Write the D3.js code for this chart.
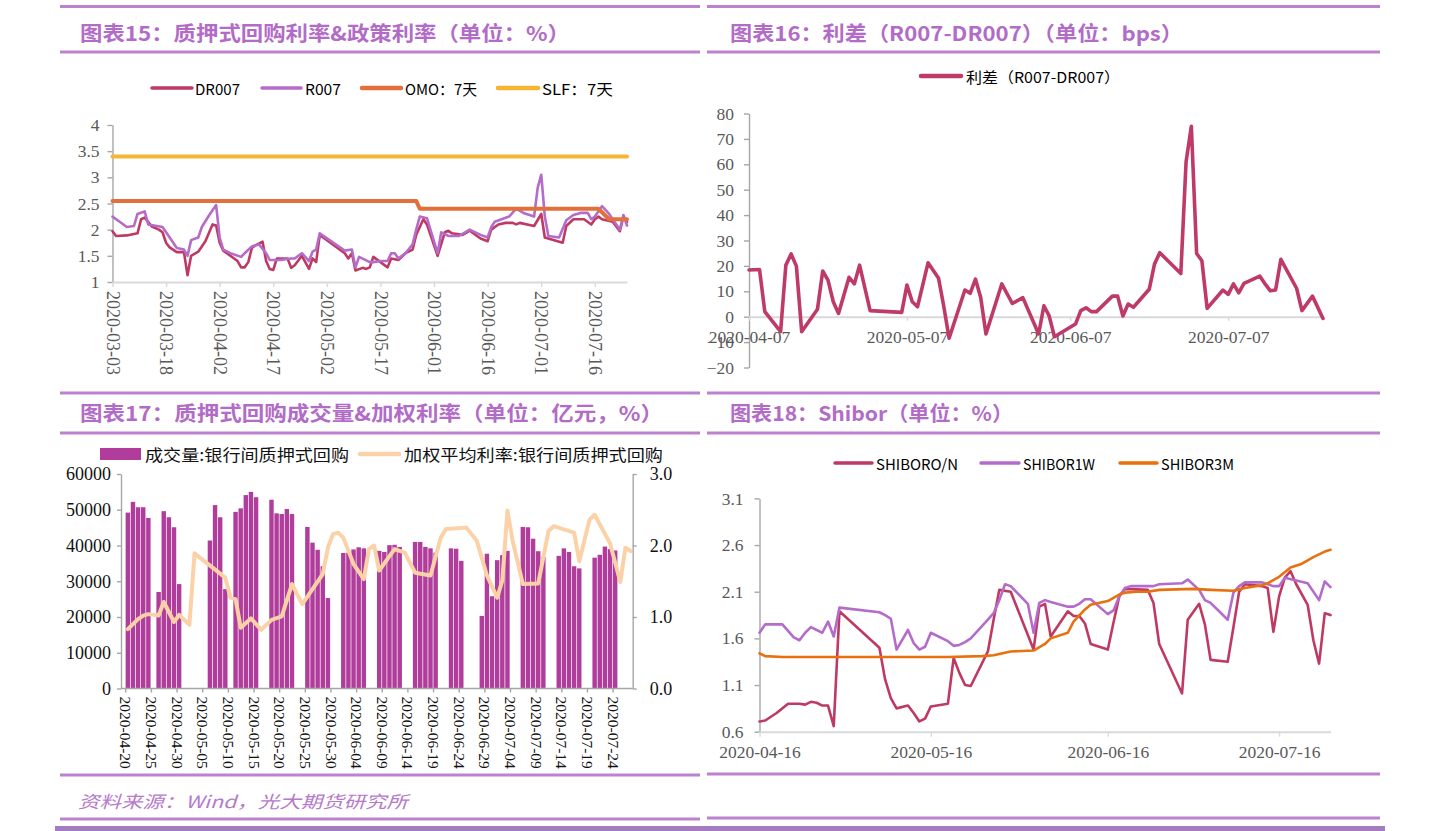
<!DOCTYPE html>
<html>
<head>
<meta charset="utf-8">
<script src="https://cdn.jsdelivr.net/npm/d3@7"></script>
<style>
  body { margin: 0; background: #fff; }
  svg { display: block; }
</style>
</head>
<body>
<svg id="chart" width="1440" height="831"></svg>
<script>
// ---------- 图表15 data ----------
var dr007Dates = [
  "2020-03-03","2020-03-04","2020-03-07","2020-03-10","2020-03-11","2020-03-12","2020-03-14","2020-03-16","2020-03-17","2020-03-18",
  "2020-03-19","2020-03-21","2020-03-23","2020-03-24","2020-03-25","2020-03-27","2020-03-29","2020-03-31","2020-04-01","2020-04-02",
  "2020-04-03","2020-04-04","2020-04-07","2020-04-08","2020-04-09","2020-04-10","2020-04-11","2020-04-12","2020-04-14","2020-04-15",
  "2020-04-16","2020-04-17","2020-04-18","2020-04-21","2020-04-22","2020-04-23","2020-04-25","2020-04-27","2020-04-28","2020-04-29",
  "2020-04-30","2020-05-07","2020-05-08","2020-05-09","2020-05-10","2020-05-12","2020-05-13","2020-05-14","2020-05-15","2020-05-17",
  "2020-05-19","2020-05-20","2020-05-22","2020-05-24","2020-05-26","2020-05-27","2020-05-29","2020-05-30","2020-06-02","2020-06-04",
  "2020-06-05","2020-06-06","2020-06-09","2020-06-11","2020-06-14","2020-06-16","2020-06-17","2020-06-19","2020-06-21","2020-06-23",
  "2020-06-24","2020-06-25","2020-06-29","2020-07-01","2020-07-02","2020-07-07","2020-07-08","2020-07-10","2020-07-13","2020-07-15",
  "2020-07-16","2020-07-17","2020-07-18","2020-07-21","2020-07-23","2020-07-24","2020-07-25"];
var dr007Values = [
  1.97,1.88,1.89,1.93,2.20,2.23,2.06,2.00,1.95,1.75,
  1.66,1.57,1.57,1.13,1.50,1.58,1.78,2.10,2.08,1.75,
  1.60,1.55,1.40,1.28,1.28,1.38,1.65,1.70,1.77,1.40,
  1.25,1.23,1.45,1.45,1.27,1.32,1.50,1.25,1.45,1.38,
  1.90,1.55,1.45,1.55,1.22,1.27,1.25,1.28,1.48,1.38,
  1.28,1.45,1.42,1.55,1.62,1.90,2.20,2.10,1.50,1.95,
  1.98,1.93,1.90,1.98,1.83,1.78,2.00,2.10,2.13,2.13,
  2.10,2.13,2.07,2.30,1.85,1.75,2.07,2.20,2.20,2.10,
  2.20,2.25,2.20,2.15,1.97,2.25,2.15];

var r007Dates = [
  "2020-03-03","2020-03-05","2020-03-07","2020-03-09","2020-03-10","2020-03-12","2020-03-13","2020-03-17","2020-03-19","2020-03-21",
  "2020-03-23","2020-03-24","2020-03-25","2020-03-27","2020-03-28","2020-03-30","2020-04-01","2020-04-02","2020-04-03","2020-04-05",
  "2020-04-08","2020-04-09","2020-04-11","2020-04-13","2020-04-15","2020-04-16","2020-04-19","2020-04-22","2020-04-23","2020-04-25",
  "2020-04-27","2020-04-28","2020-04-29","2020-04-30","2020-05-07","2020-05-09","2020-05-10","2020-05-11","2020-05-14","2020-05-15",
  "2020-05-17","2020-05-19","2020-05-20","2020-05-21","2020-05-22","2020-05-24","2020-05-26","2020-05-27","2020-05-28","2020-05-30",
  "2020-06-02","2020-06-03","2020-06-05","2020-06-08","2020-06-11","2020-06-14","2020-06-16","2020-06-17","2020-06-18","2020-06-22",
  "2020-06-24","2020-06-26","2020-06-29","2020-06-30","2020-07-01","2020-07-02","2020-07-03","2020-07-06","2020-07-08","2020-07-10",
  "2020-07-12","2020-07-14","2020-07-15","2020-07-16","2020-07-18","2020-07-20","2020-07-23","2020-07-24","2020-07-25"];
var r007Values = [
  2.25,2.15,2.05,2.07,2.30,2.35,2.10,2.05,1.85,1.65,
  1.62,1.50,1.80,1.85,2.05,2.27,2.47,1.85,1.62,1.55,
  1.48,1.55,1.68,1.72,1.55,1.42,1.42,1.45,1.45,1.55,
  1.40,1.58,1.62,1.93,1.60,1.62,1.28,1.48,1.38,1.38,
  1.40,1.40,1.55,1.55,1.45,1.55,1.72,2.00,2.25,2.22,
  1.55,1.95,1.88,1.88,2.00,1.90,1.85,2.05,2.15,2.25,
  2.40,2.32,2.25,2.80,3.05,2.25,1.88,1.85,2.18,2.28,
  2.32,2.32,2.20,2.25,2.45,2.30,2.00,2.28,2.08];

var omoDates = ["2020-03-03","2020-05-27","2020-05-28","2020-07-17","2020-07-20","2020-07-25"];
var omoValues = [2.55,2.55,2.40,2.40,2.20,2.20];
var slfDates = ["2020-03-03","2020-07-25"];
var slfValues = [3.40,3.40];

var p1YTicks = [1,1.5,2,2.5,3,3.5,4];
var p1XTicks = ["2020-03-03","2020-03-18","2020-04-02","2020-04-17","2020-05-02","2020-05-17","2020-06-01","2020-06-16","2020-07-01","2020-07-16"];

// ---------- 图表16 data ----------
var spreadDates = [
  "2020-04-07","2020-04-09","2020-04-10","2020-04-13","2020-04-14","2020-04-15","2020-04-16","2020-04-17","2020-04-20","2020-04-21",
  "2020-04-22","2020-04-23","2020-04-24","2020-04-26","2020-04-27","2020-04-28","2020-04-30","2020-05-06","2020-05-07","2020-05-08",
  "2020-05-09","2020-05-11","2020-05-13","2020-05-14","2020-05-15","2020-05-18","2020-05-19","2020-05-20","2020-05-21","2020-05-22",
  "2020-05-25","2020-05-27","2020-05-29","2020-06-01","2020-06-02","2020-06-03","2020-06-04","2020-06-08","2020-06-09","2020-06-10",
  "2020-06-11","2020-06-12","2020-06-15","2020-06-16","2020-06-17","2020-06-18","2020-06-19","2020-06-22","2020-06-23","2020-06-24",
  "2020-06-28","2020-06-29","2020-06-30","2020-07-01","2020-07-02","2020-07-03","2020-07-06","2020-07-07","2020-07-08","2020-07-09",
  "2020-07-10","2020-07-13","2020-07-14","2020-07-15","2020-07-16","2020-07-17","2020-07-20","2020-07-21","2020-07-23","2020-07-25"];
var spreadValues = [
  18.4,18.6,2.0,-5.9,20.3,24.7,19.9,-5.9,2.9,18.0,
  14.4,5.9,1.3,15.5,12.9,20.3,2.4,1.7,12.5,5.9,
  3.9,21.2,15.1,3.9,-8.5,10.5,9.2,14.8,7.6,-6.8,
  12.9,5.2,7.5,-6.8,4.3,0.3,-7.9,-2.9,2.4,3.5,
  2.0,2.0,8.1,8.1,0.3,5.0,3.7,10.8,20.7,25.2,
  17.0,61.0,75.0,24.9,22.0,3.3,10.5,8.8,12.9,9.4,
  13.1,16.0,12.9,10.2,10.5,22.6,11.1,2.4,8.1,-0.7];
var p2YTicks = [-20,-10,0,10,20,30,40,50,60,70,80];
var p2XTicks = ["2020-04-07","2020-05-07","2020-06-07","2020-07-07"];

// ---------- 图表17 data ----------
var volumeDates = [
  "2020-04-20","2020-04-21","2020-04-22","2020-04-23","2020-04-24",
  "2020-04-26","2020-04-27","2020-04-28","2020-04-29","2020-04-30",
  "2020-05-06","2020-05-07","2020-05-08","2020-05-09",
  "2020-05-11","2020-05-12","2020-05-13","2020-05-14","2020-05-15",
  "2020-05-18","2020-05-19","2020-05-20","2020-05-21","2020-05-22",
  "2020-05-25","2020-05-26","2020-05-27","2020-05-28","2020-05-29",
  "2020-06-01","2020-06-02","2020-06-03","2020-06-04","2020-06-05",
  "2020-06-08","2020-06-09","2020-06-10","2020-06-11","2020-06-12",
  "2020-06-15","2020-06-16","2020-06-17","2020-06-18","2020-06-19",
  "2020-06-22","2020-06-23","2020-06-24",
  "2020-06-28","2020-06-29","2020-06-30","2020-07-01","2020-07-02","2020-07-03",
  "2020-07-06","2020-07-07","2020-07-08","2020-07-09","2020-07-10",
  "2020-07-13","2020-07-14","2020-07-15","2020-07-16","2020-07-17",
  "2020-07-20","2020-07-21","2020-07-22","2020-07-23","2020-07-24"];
var volumeValues = [
  49200,52200,50700,50700,47700,
  27000,49600,47900,45100,29200,
  41400,51300,47900,27800,
  49400,50400,54100,55000,53500,
  52800,49000,48800,50200,48800,
  45200,40800,38800,34200,25300,
  37900,38000,38900,39500,39200,
  38500,38200,40100,40200,39600,
  41000,41000,39600,39200,38000,
  39200,39100,35700,
  20300,37700,25800,35900,37300,38500,
  45200,45100,41900,38400,36800,
  37100,39200,38200,34200,33600,
  36600,37400,39700,39000,38600];

var rateDates = [
  "2020-04-20","2020-04-21","2020-04-22","2020-04-23","2020-04-24","2020-04-26","2020-04-27","2020-04-29","2020-04-30","2020-05-02",
  "2020-05-03","2020-05-09","2020-05-10","2020-05-11","2020-05-12","2020-05-14","2020-05-16","2020-05-18","2020-05-20","2020-05-22",
  "2020-05-24","2020-05-28","2020-05-29","2020-05-30","2020-05-31","2020-06-01","2020-06-03","2020-06-05","2020-06-06","2020-06-07",
  "2020-06-08","2020-06-11","2020-06-13","2020-06-15","2020-06-18","2020-06-20","2020-06-21","2020-06-25","2020-06-27","2020-06-29",
  "2020-07-01","2020-07-02","2020-07-03","2020-07-04","2020-07-06","2020-07-09","2020-07-11","2020-07-12","2020-07-16","2020-07-17",
  "2020-07-19","2020-07-20","2020-07-23","2020-07-25","2020-07-26","2020-07-27"];
var rateValues = [
  0.83,0.90,0.97,1.02,1.04,1.02,1.21,0.93,1.03,0.89,
  1.89,1.55,1.27,1.25,0.85,0.98,0.82,0.96,1.01,1.46,
  1.18,1.60,1.97,2.16,2.18,2.11,1.74,1.53,1.95,2.00,
  1.65,1.95,1.90,1.62,1.58,2.11,2.23,2.25,2.07,1.58,
  1.27,1.51,2.49,2.07,1.46,1.47,2.20,2.27,2.18,1.78,
  2.36,2.43,2.03,1.49,1.97,1.92];
var p3LeftTicks = [0,10000,20000,30000,40000,50000,60000];
var p3RightTicks = [0,1,2,3];
var p3XTicks = ["2020-04-20","2020-04-25","2020-04-30","2020-05-05","2020-05-10","2020-05-15","2020-05-20","2020-05-25","2020-05-30","2020-06-04",
  "2020-06-09","2020-06-14","2020-06-19","2020-06-24","2020-06-29","2020-07-04","2020-07-09","2020-07-14","2020-07-19","2020-07-24"];

// ---------- 图表18 data ----------
var onDates = [
  "2020-04-16","2020-04-17","2020-04-19","2020-04-21","2020-04-22","2020-04-23","2020-04-24","2020-04-25","2020-04-26","2020-04-27",
  "2020-04-28","2020-04-29","2020-04-30","2020-05-07","2020-05-08","2020-05-09","2020-05-10","2020-05-12","2020-05-13","2020-05-14",
  "2020-05-15","2020-05-16","2020-05-19","2020-05-20","2020-05-21","2020-05-22","2020-05-23","2020-05-26","2020-05-27","2020-05-28",
  "2020-05-30","2020-06-03","2020-06-04","2020-06-05","2020-06-06","2020-06-09","2020-06-10","2020-06-11","2020-06-12","2020-06-13",
  "2020-06-16","2020-06-17","2020-06-18","2020-06-19","2020-06-23","2020-06-24","2020-06-25","2020-06-29","2020-06-30","2020-07-02",
  "2020-07-03","2020-07-04","2020-07-07","2020-07-08","2020-07-09","2020-07-10","2020-07-13","2020-07-14","2020-07-15","2020-07-16",
  "2020-07-17","2020-07-18","2020-07-19","2020-07-21","2020-07-22","2020-07-23","2020-07-24","2020-07-25"];
var onValues = [
  0.71,0.72,0.80,0.90,0.90,0.90,0.89,0.92,0.91,0.88,
  0.88,0.66,1.89,1.50,1.16,0.96,0.85,0.88,0.80,0.71,
  0.74,0.87,0.90,1.39,1.23,1.10,1.09,1.46,1.80,2.12,
  2.10,1.48,1.94,1.97,1.62,1.89,1.84,1.84,1.76,1.54,
  1.48,1.77,2.05,2.13,2.12,1.98,1.54,1.01,1.80,1.97,
  1.75,1.37,1.35,1.72,2.10,2.18,2.16,2.14,1.67,2.05,
  2.25,2.32,2.18,1.96,1.58,1.33,1.87,1.85];

var w1Dates = [
  "2020-04-16","2020-04-17","2020-04-20","2020-04-22","2020-04-23","2020-04-24","2020-04-25","2020-04-27","2020-04-28","2020-04-29",
  "2020-04-30","2020-05-07","2020-05-08","2020-05-09","2020-05-10","2020-05-12","2020-05-13","2020-05-14","2020-05-15","2020-05-16",
  "2020-05-19","2020-05-20","2020-05-21","2020-05-22","2020-05-23","2020-05-26","2020-05-27","2020-05-28","2020-05-29","2020-05-30",
  "2020-06-02","2020-06-03","2020-06-04","2020-06-05","2020-06-06","2020-06-09","2020-06-10","2020-06-11","2020-06-12","2020-06-13",
  "2020-06-16","2020-06-17","2020-06-18","2020-06-19","2020-06-20","2020-06-24","2020-06-25","2020-06-29","2020-06-30","2020-07-02",
  "2020-07-03","2020-07-04","2020-07-07","2020-07-08","2020-07-09","2020-07-10","2020-07-13","2020-07-15","2020-07-16","2020-07-17",
  "2020-07-21","2020-07-23","2020-07-24","2020-07-25"];
var w1Values = [
  1.66,1.75,1.75,1.61,1.58,1.66,1.72,1.66,1.78,1.62,
  1.93,1.88,1.85,1.81,1.48,1.69,1.55,1.48,1.51,1.66,
  1.57,1.52,1.53,1.56,1.60,1.80,1.87,2.01,2.18,2.16,
  1.97,1.66,1.98,2.01,1.99,1.94,1.94,1.97,2.02,2.02,
  1.86,1.90,2.05,2.14,2.16,2.16,2.18,2.19,2.23,2.12,
  2.01,1.98,1.80,2.09,2.16,2.20,2.20,2.16,2.16,2.25,
  2.19,2.01,2.21,2.15];

var m3Dates = [
  "2020-04-16","2020-04-17","2020-04-20","2020-04-23","2020-04-29","2020-05-10","2020-05-19","2020-05-25","2020-05-27","2020-05-30",
  "2020-06-03","2020-06-05","2020-06-06","2020-06-09","2020-06-10","2020-06-12","2020-06-13","2020-06-16","2020-06-18","2020-06-19",
  "2020-06-21","2020-06-23","2020-06-25","2020-07-01","2020-07-04","2020-07-08","2020-07-10","2020-07-13","2020-07-14","2020-07-16",
  "2020-07-18","2020-07-20","2020-07-22","2020-07-24","2020-07-25"];
var m3Values = [
  1.44,1.41,1.40,1.40,1.40,1.40,1.40,1.41,1.42,1.46,
  1.47,1.54,1.60,1.66,1.78,1.91,1.96,2.00,2.07,2.09,
  2.10,2.10,2.12,2.13,2.12,2.11,2.14,2.17,2.19,2.26,
  2.36,2.40,2.47,2.53,2.55];
var p4YTicks = [0.6,1.1,1.6,2.1,2.6,3.1];
var p4XTicks = ["2020-04-16","2020-05-16","2020-06-16","2020-07-16"];

// ---------- drawing ----------
var parseDate = d3.timeParse("%Y-%m-%d");
var fmtDate = d3.timeFormat("%Y-%m-%d");
var serif = '"Liberation Serif","Times New Roman",serif';
var cjk = '"Noto Sans CJK SC","Noto Sans",sans-serif';

var frameColor = "#bd82cf";
var titleColor = "#b26cc7";
var axisGray = "#a6a6a6";
var lightGray = "#d9d9d9";
var labelGray = "#595959";

var svg = d3.select("#chart");
svg.append("rect").attr("width", 1440).attr("height", 831).attr("fill", "#fff");

function pts(dates, values) {
  return dates.map(function(d, i) { return { date: parseDate(d), value: values[i] }; });
}

function hline(x1, x2, y, color, w) {
  svg.append("line").attr("x1", x1).attr("x2", x2).attr("y1", y).attr("y2", y)
     .attr("stroke", color || frameColor).attr("stroke-width", w || 3);
}

function fitText(x, y, str, width, size, color, opts) {
  opts = opts || {};
  return svg.append("text")
     .attr("x", x).attr("y", y)
     .attr("dominant-baseline", "central")
     .attr("textLength", width).attr("lengthAdjust", "spacingAndGlyphs")
     .style("font-family", cjk)
     .style("font-size", size + "px")
     .style("font-weight", opts.weight || "normal")
     .style("font-style", opts.italic ? "italic" : "normal")
     .attr("fill", color)
     .text(str);
}

function legendLine(x1, x2, y, color, w) {
  svg.append("line").attr("x1", x1).attr("x2", x2).attr("y1", y).attr("y2", y)
     .attr("stroke", color).attr("stroke-width", w).attr("stroke-linecap", "round");
}

function styleAxis(g, lineColor, textColor, size) {
  g.attr("font-family", null).attr("font-size", null);
  g.select(".domain").attr("stroke", lineColor).attr("stroke-width", 1.4);
  g.selectAll(".tick line").attr("stroke", lineColor).attr("stroke-width", 1.4);
  g.selectAll(".tick text").attr("fill", textColor)
     .style("font-family", serif).style("font-size", size + "px");
}

function drawLine(data, x, y, color, width) {
  svg.append("path").datum(data)
     .attr("fill", "none").attr("stroke", color).attr("stroke-width", width)
     .attr("stroke-linejoin", "round").attr("stroke-linecap", "round")
     .attr("d", d3.line().x(function(d) { return x(d.date); }).y(function(d) { return y(d.value); }));
}

// frame lines
hline(60, 700, 6.5); hline(707, 1380, 6.5);
hline(60, 700, 52); hline(707, 1380, 52);
hline(60, 700, 393); hline(707, 1380, 393);
hline(60, 700, 433); hline(707, 1380, 433);
hline(60, 700, 775); hline(707, 1380, 774);
hline(60, 700, 819); hline(707, 1380, 818);
svg.append("rect").attr("x", 55).attr("y", 826).attr("width", 1330).attr("height", 5).attr("fill", "#a67cc0");

// titles
fitText(80, 32, "图表15：质押式回购利率&政策利率（单位：%）", 490, 20, titleColor, { weight: "bold" });
fitText(730, 32, "图表16：利差（R007-DR007）（单位：bps）", 453, 20, titleColor, { weight: "bold" });
fitText(80, 412, "图表17：质押式回购成交量&加权利率（单位：亿元，%）", 583, 20, titleColor, { weight: "bold" });
fitText(730, 412, "图表18：Shibor（单位：%）", 283, 20, titleColor, { weight: "bold" });
fitText(78, 800, "资料来源：Wind，光大期货研究所", 330, 17, "#b67acb", { italic: true });

// ===== Panel 1 =====
var x1 = d3.scaleTime().domain([parseDate("2020-03-03"), parseDate("2020-07-25")]).range([112.5, 627]);
var y1 = d3.scaleLinear().domain([1, 4]).range([282, 125]);

var gy1 = svg.append("g").attr("transform", "translate(112.5,0)")
  .call(d3.axisLeft(y1).tickValues(p1YTicks).tickSize(5).tickSizeOuter(0).tickPadding(8).tickFormat(d3.format("~g")));
styleAxis(gy1, axisGray, labelGray, 17.5);

var gx1 = svg.append("g").attr("transform", "translate(0,282)")
  .call(d3.axisBottom(x1).tickValues(p1XTicks.map(parseDate)).tickSize(5).tickSizeOuter(0).tickFormat(fmtDate));
styleAxis(gx1, lightGray, labelGray, 18);
gx1.select(".domain").attr("stroke-width", 2);
gx1.selectAll(".tick text").attr("transform", "rotate(90)").attr("x", 9).attr("y", 0)
   .attr("dy", "0.35em").style("text-anchor", "start");

drawLine(pts(dr007Dates, dr007Values), x1, y1, "#be3a64", 2.6);
drawLine(pts(r007Dates, r007Values), x1, y1, "#b56bc9", 2.6);
drawLine(pts(omoDates, omoValues), x1, y1, "#e2703a", 4);
drawLine(pts(slfDates, slfValues), x1, y1, "#f7b534", 4);

legendLine(152, 192, 88, "#be3a64", 3.5); fitText(195, 88, "DR007", 45, 15, "#000");
legendLine(262, 301, 88, "#b56bc9", 3.5); fitText(305, 88, "R007", 36, 15, "#000");
legendLine(362, 401, 88, "#e2703a", 4.5); fitText(405, 88, "OMO：7天", 72, 15, "#000");
legendLine(498, 538, 88, "#f7b534", 4.5); fitText(542, 88, "SLF：7天", 71, 15, "#000");

// ===== Panel 2 =====
var x2 = d3.scaleTime().domain([parseDate("2020-04-07"), parseDate("2020-07-25")]).range([749, 1323]);
var y2 = d3.scaleLinear().domain([-20, 80]).range([367.5, 113.5]);

var gy2 = svg.append("g").attr("transform", "translate(749,0)")
  .call(d3.axisLeft(y2).tickValues(p2YTicks).tickSize(5).tickSizeOuter(0).tickPadding(10));
styleAxis(gy2, axisGray, labelGray, 17.5);

var gx2 = svg.append("g").attr("transform", "translate(0," + y2(0) + ")")
  .call(d3.axisBottom(x2).tickValues(p2XTicks.map(parseDate)).tickSize(4).tickSizeOuter(0).tickPadding(10).tickFormat(fmtDate));
styleAxis(gx2, lightGray, labelGray, 17.5);
gx2.select(".domain").attr("stroke-width", 2);

drawLine(pts(spreadDates, spreadValues), x2, y2, "#be3a69", 3.6);
legendLine(921, 961, 76, "#be3a69", 4.5);
fitText(966, 76, "利差（R007-DR007）", 154, 15, "#000");

// ===== Panel 3 =====
var x3 = d3.scaleTime().domain([new Date(2020, 3, 18, 16), new Date(2020, 6, 27, 10)]).range([121, 632.7]);
var dayW3 = x3(parseDate("2020-04-21")) - x3(parseDate("2020-04-20"));
var yL3 = d3.scaleLinear().domain([0, 60000]).range([688.5, 474]);
var yR3 = d3.scaleLinear().domain([0, 3]).range([688.5, 474]);

svg.append("g").selectAll("rect")
  .data(pts(volumeDates, volumeValues))
  .enter().append("rect")
  .attr("x", function(d) { return x3(d.date) - dayW3 / 2 + 0.35; })
  .attr("width", dayW3 - 0.7)
  .attr("y", function(d) { return yL3(d.value); })
  .attr("height", function(d) { return yL3(0) - yL3(d.value); })
  .attr("fill", "#b03d9b");

drawLine(pts(rateDates, rateValues), x3, yR3, "#fbd2a8", 4);

var gyl3 = svg.append("g").attr("transform", "translate(121,0)")
  .call(d3.axisLeft(yL3).tickValues(p3LeftTicks).tickSize(4).tickSizeOuter(0).tickPadding(6).tickFormat(d3.format("d")));
styleAxis(gyl3, axisGray, "#111", 18);

var gyr3 = svg.append("g").attr("transform", "translate(632.7,0)")
  .call(d3.axisRight(yR3).tickValues(p3RightTicks).tickSize(4).tickSizeOuter(0).tickPadding(13).tickFormat(d3.format(".1f")));
styleAxis(gyr3, axisGray, "#111", 18);

var x3tick = x3.copy().range([121 - dayW3 / 2, 632.7 - dayW3 / 2]);
var gx3 = svg.append("g").attr("transform", "translate(0,688.5)")
  .call(d3.axisBottom(x3tick).tickValues(p3XTicks.map(parseDate)).tickSize(4).tickSizeOuter(0).tickFormat(fmtDate));
styleAxis(gx3, axisGray, "#111", 15.5);
gx3.select(".domain").remove();
gx3.selectAll(".tick text").attr("transform", "rotate(90)").attr("x", 8).attr("y", 0)
   .attr("dy", "0.35em").style("text-anchor", "start");
svg.append("line").attr("x1", 121).attr("x2", 632.7).attr("y1", 688.5).attr("y2", 688.5)
   .attr("stroke", axisGray).attr("stroke-width", 1.4);

svg.append("rect").attr("x", 100).attr("y", 448).attr("width", 41).attr("height", 12).attr("fill", "#b03d9b");
fitText(145, 454, "成交量:银行间质押式回购", 204, 16, "#111");
legendLine(360, 399, 454, "#fbd2a8", 4.5);
fitText(404, 454, "加权平均利率:银行间质押式回购", 259, 16, "#111");

// ===== Panel 4 =====
var x4 = d3.scaleTime().domain([parseDate("2020-04-16"), parseDate("2020-07-25")]).range([759.5, 1330.5]);
var y4 = d3.scaleLinear().domain([0.6, 3.1]).range([731.7, 498.4]);

var gy4 = svg.append("g").attr("transform", "translate(759.5,0)")
  .call(d3.axisLeft(y4).tickValues(p4YTicks).tickSize(5).tickSizeOuter(0).tickPadding(11).tickFormat(d3.format(".1f")));
styleAxis(gy4, axisGray, labelGray, 17.5);

var gx4 = svg.append("g").attr("transform", "translate(0,731.7)")
  .call(d3.axisBottom(x4).tickValues(p4XTicks.map(parseDate)).tickSize(5).tickSizeOuter(0).tickPadding(9).tickFormat(fmtDate));
styleAxis(gx4, lightGray, labelGray, 17.5);
gx4.select(".domain").attr("stroke-width", 2);

drawLine(pts(onDates, onValues), x4, y4, "#bf3a63", 2.6);
drawLine(pts(w1Dates, w1Values), x4, y4, "#b46ccb", 2.6);
drawLine(pts(m3Dates, m3Values), x4, y4, "#e8700e", 2.6);

legendLine(835, 872, 463, "#bf3a63", 3.5); fitText(876, 463, "SHIBORO/N", 82, 15, "#000");
legendLine(981, 1019, 463, "#b46ccb", 3.5); fitText(1023, 463, "SHIBOR1W", 72, 15, "#000");
legendLine(1120, 1157, 463, "#e8700e", 3.5); fitText(1161, 463, "SHIBOR3M", 73, 15, "#000");
</script>
</body>
</html>
